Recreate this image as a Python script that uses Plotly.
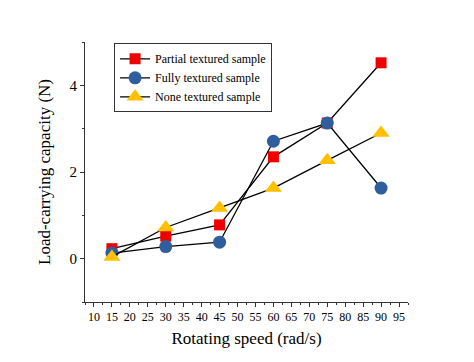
import plotly.graph_objects as go

speed = [15, 30, 45, 60, 75, 90]
partial = [0.23, 0.52, 0.78, 2.35, 3.13, 4.52]
fully = [0.13, 0.28, 0.38, 2.71, 3.13, 1.63]
none_tex = [0.04, 0.72, 1.17, 1.63, 2.27, 2.90]
x_ticks = list(range(10, 100, 5))
y_ticks = [0, 2, 4]

font = "Liberation Serif"

fig = go.Figure()
fig.add_trace(go.Scatter(x=speed, y=partial, mode="lines+markers", name="Partial textured sample",
                         line=dict(color="black", width=1.3),
                         marker=dict(symbol="square", size=11, color="#EE0000")))
fig.add_trace(go.Scatter(x=speed, y=fully, mode="lines+markers", name="Fully textured sample",
                         line=dict(color="black", width=1.3),
                         marker=dict(symbol="circle", size=13, color="#2F5E9E")))
fig.add_trace(go.Scatter(x=speed, y=none_tex, mode="lines+markers", name="None textured sample",
                         line=dict(color="black", width=1.3),
                         marker=dict(symbol="triangle-up", size=15, color="#FFC000")))

fig.update_layout(
    width=474, height=362,
    margin=dict(l=77, r=74, t=34, b=68),
    paper_bgcolor="white", plot_bgcolor="white",
    font=dict(family=font, color="black"),
    showlegend=True,
    legend=dict(x=0.09, y=0.995, xanchor="left", yanchor="top",
                bordercolor="#333", borderwidth=1, bgcolor="white",
                font=dict(size=12, family=font), tracegroupgap=0,
                itemwidth=30),
    xaxis=dict(range=[7.5, 97.5], tickvals=x_ticks, ticktext=[str(v) for v in x_ticks],
               showline=True, linecolor="#333", linewidth=1, mirror=False,
               ticks="outside", ticklen=4, tickcolor="#333",
               minor=dict(dtick=2.5, tick0=7.5, ticks="outside", ticklen=2, tickcolor="#333"),
               showgrid=False, zeroline=False,
               tickfont=dict(size=12, family=font),
               title=dict(text="Rotating speed (rad/s)", font=dict(size=17, family=font), standoff=8)),
    yaxis=dict(range=[-1, 5], tickvals=y_ticks, ticktext=[str(v) for v in y_ticks],
               showline=True, linecolor="#333", linewidth=1, mirror=False,
               ticks="outside", ticklen=4, tickcolor="#333",
               minor=dict(dtick=1, tick0=-1, ticks="outside", ticklen=2, tickcolor="#333"),
               showgrid=False, zeroline=False,
               tickfont=dict(size=15, family=font),
               title=dict(text="Load-carrying capacity (N)", font=dict(size=17, family=font), standoff=14)),
)

fig.write_html("out.html")
